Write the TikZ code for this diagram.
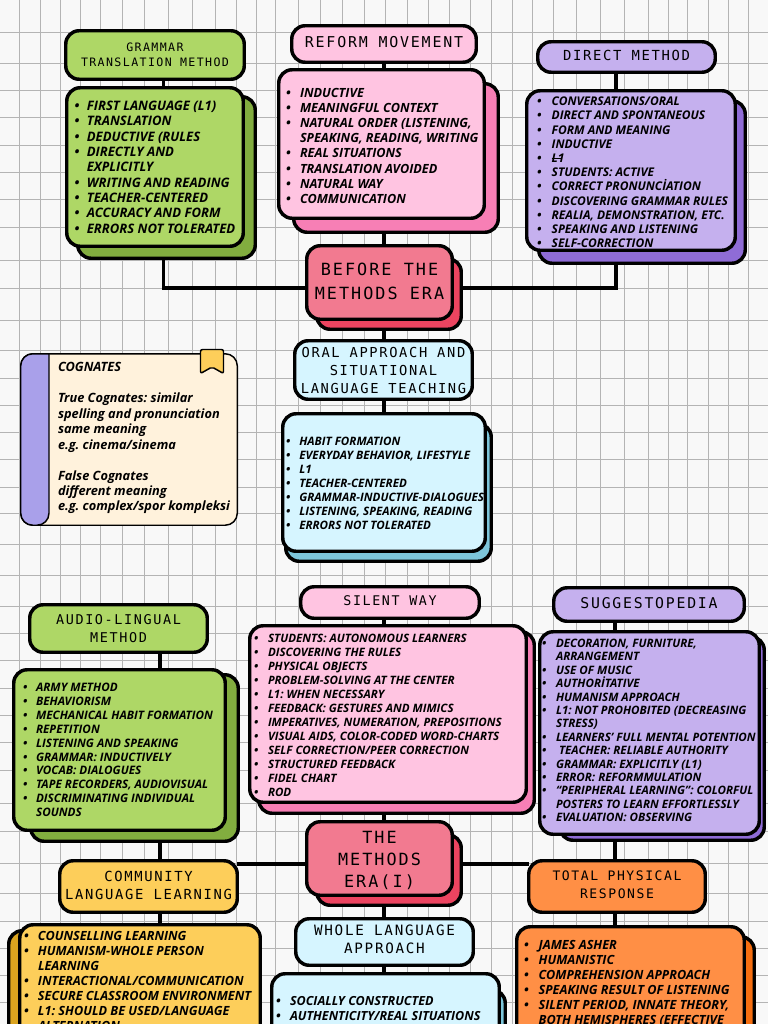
\documentclass[tikz,border=0pt]{standalone}
\usepackage{fontspec}
\newfontfamily\bfam{Open Sans}
\newfontfamily\tfam{DejaVu Sans Mono}[LetterSpace=12]
\definecolor{paper}{HTML}{F8F8F8}
\definecolor{gridc}{HTML}{B4B4B4}
\definecolor{grn}{HTML}{AED766}\definecolor{grnS}{HTML}{82AD3F}
\definecolor{pnk}{HTML}{FFC4E1}\definecolor{pnkS}{HTML}{F77FB5}
\definecolor{vio}{HTML}{C5B0EE}\definecolor{vioS}{HTML}{8F6CD6}
\definecolor{red}{HTML}{F27A90}\definecolor{redS}{HTML}{EC4460}
\definecolor{cya}{HTML}{D6F5FF}\definecolor{cyaS}{HTML}{7DC6DB}
\definecolor{yel}{HTML}{FDCE5A}\definecolor{yelS}{HTML}{DBA41F}
\definecolor{org}{HTML}{FF8F45}\definecolor{orgS}{HTML}{F56E10}
\definecolor{cream}{HTML}{FFF2DC}\definecolor{lav}{HTML}{A9A0EA}
\tikzset{
  bxs/.style={draw=black,line width=2.6pt,rounded corners=10pt,inner sep=0pt,outer sep=0pt},
  ttx/.style={inner sep=0pt,outer sep=0pt,align=center,text=black},
  conn/.style={draw=black,line width=2.5pt},
  lst/.style={anchor=north west,inner sep=0pt,outer sep=0pt,align=left,text=black},
}
% name x1 y1 x2 y2 fill
\newcommand{\bx}[6]{%
  \pgfmathsetmacro{\tw}{(#4-#2-3.5)*0.75}\pgfmathsetmacro{\th}{(#5-#3-3.5)*0.75}%
  \node[bxs,fill=#6,minimum width=\tw pt,minimum height=\th pt] (#1) at ({(#2+#4)/2},{(#3+#5)/2}) {};}
% box-name, lift in pt, font size, skip, text
\newcommand{\tx}[5]{\node[ttx,font={\tfam\fontsize{#3}{#4}\selectfont}] (#1x) at ([yshift=#2pt]#1.center) {#5};}
\newcommand{\bl}{\makebox[\bw][l]{•}}
\newcommand{\ct}{\hspace*{\bw}}
% name x ytop gap size skip lines
\newcommand{\li}[7]{\def\bw{#4pt}%
  \node[lst,font={\frenchspacing\bfam\bfseries\itshape\fontsize{#5}{#6}\selectfont}] (#1) at (#2,#3) {#7};}
\begin{document}
\begin{tikzpicture}[x=0.75pt,y=-0.75pt]
\useasboundingbox (0,0) rectangle (768,1024);
\clip (0,0) rectangle (768,1024);
\fill[paper] (0,0) rectangle (768,1024);
\foreach \y in {32,63,90,117,145,172,199,227,260,288,320,350,378,405,432,459,487,513,544}{
  \draw[gridc,line width=0.35pt] (0,\y) -- (768,\y);
  \draw[gridc,line width=0.35pt] (0,\y+543) -- (768,\y+543);
}
\foreach \x in {19,40,60,80,100,122,144,168,192,215,236,256,275,298,320,342,364,385,407,428,449,470,491,512,532,553,576,600,624,648,668,687,708,728,748}{
  \draw[gridc,line width=0.35pt] (\x,0) -- (\x,1024);
}
% ---- shadows and bodies
\bx{gtmS}{76}{95}{257}{260}{grnS}
\bx{gtmB}{65}{86}{245}{248}{grn}
\bx{gtmT}{64}{29}{246}{81}{grn}\tx{gtmT}{0}{8.7}{11.2}{GRAMMAR\\TRANSLATION METHOD}
\bx{refS}{292}{82}{500}{234}{pnkS}
\bx{refB}{277}{68}{486}{220}{pnk}
\bx{refT}{290}{24}{478}{64}{pnk}\tx{refT}{1.5}{11.2}{14}{REFORM MOVEMENT}
\bx{dirS}{537}{99}{747}{265}{vioS}
\bx{dirB}{525}{89}{737}{252}{vio}
\bx{dirT}{536}{40}{717}{74}{vio}\tx{dirT}{1.5}{10.4}{13}{DIRECT METHOD}
\bx{befS}{315}{257}{463}{331}{redS}
\bx{befT}{305}{244}{454}{321}{red}\tx{befT}{0.75}{12.6}{17.6}{BEFORE THE\\METHODS ERA}
\bx{oraT}{293}{339}{474}{401}{cya}\tx{oraT}{0}{10.3}{13.5}{ORAL APPROACH AND\\SITUATIONAL\\LANGUAGE TEACHING}
\bx{oraS}{284}{422}{493}{563}{cyaS}
\bx{oraB}{281}{412}{487}{553}{cya}
\bx{audT}{28}{603}{209}{654}{grn}\tx{audT}{0}{10.1}{13.5}{AUDIO-LINGUAL\\METHOD}
\bx{audS}{29}{673}{240}{843}{grnS}
\bx{audB}{12}{668}{227}{832}{grn}
\bx{silT}{299}{585}{481}{620}{pnk}\tx{silT}{1.5}{10}{13}{SILENT WAY}
\bx{silS}{257}{630}{536}{815}{pnkS}
\bx{silB}{248}{624}{528}{804}{pnk}
\bx{sugT}{552}{586}{746}{623}{vio}\tx{sugT}{0.75}{11.1}{14}{SUGGESTOPEDIA}
\bx{sugS}{558}{635}{766}{842}{vioS}
\bx{sugB}{538}{630}{761}{836}{vio}
\bx{metS}{315}{833}{463}{907}{redS}
\bx{metT}{305}{820}{454}{897}{red}\tx{metT}{-1.5}{12.6}{16.5}{THE\\METHODS\\ERA(I)}
\bx{cllT}{58}{859}{239}{914}{yel}\tx{cllT}{0.75}{10.4}{13.5}{COMMUNITY\\LANGUAGE LEARNING}
\bx{cllS}{7}{929}{230}{1070}{yelS}
\bx{cllB}{18}{923}{262}{1070}{yel}
\bx{wlaT}{294}{917}{475}{967}{cya}\tx{wlaT}{2.25}{10.7}{13.5}{WHOLE LANGUAGE\\APPROACH}
\bx{wlaS}{290}{988}{507}{1070}{cyaS}
\bx{wlaB}{270}{972}{501}{1070}{cya}
\bx{tprT}{527}{859}{707}{914}{org}\tx{tprT}{1.5}{9.8}{13.5}{TOTAL PHYSICAL\\RESPONSE}
\bx{tprS}{530}{935}{756}{1070}{orgS}
\bx{tprB}{515}{925}{746}{1070}{org}
% ---- cognates panel
\node[draw=black,line width=1.1pt,fill=cream,rounded corners=9pt,minimum width=162.4pt,minimum height=128.6pt,inner sep=0pt,outer sep=0pt] (cog) at (129,439.5) {};
\draw[black,line width=1.1pt,fill=lav,rounded corners=9pt] (49,0 |- cog.north) -- (cog.north west) -- (cog.south west) -- (49,0 |- cog.south) [sharp corners] -- cycle;
\draw[black,line width=1.1pt,fill=yel,line join=round,rounded corners=1.5pt] (200.5,349.5) -- (223.5,349.5) -- (223.5,373.5) -- (212,367) -- (200.5,373.5) -- cycle;
% ---- connectors
\coordinate (cx1) at (163.5,0);
\coordinate (cx2) at (616,0);
\coordinate (cx3) at (160,0);
\coordinate (cx4) at (615,0);
\coordinate (cx5) at (384,0);
\coordinate (cy1) at (0,288);
\coordinate (cy2) at (0,864);
\draw[conn] (cx1 |- gtmT.south) -- (cx1 |- gtmB.north);
\draw[conn,line join=miter] (cx1 |- gtmS.south) -- (cx1 |- cy1) -- (befT.west |- cy1);
\draw[conn] (cx5 |- refT.south) -- (cx5 |- refB.north);
\draw[conn] (cx5 |- refS.south) -- (cx5 |- befT.north);
\draw[conn] (cx2 |- dirT.south) -- (cx2 |- dirB.north);
\draw[conn,line join=miter] (cx2 |- dirS.south) -- (cx2 |- cy1) -- (befS.east |- cy1);
\draw[conn] (cx5 |- befS.south) -- (cx5 |- oraT.north);
\draw[conn] (cx5 |- oraT.south) -- (cx5 |- oraB.north);
\draw[conn] (cx3 |- audT.south) -- (cx3 |- audB.north);
\draw[conn] (cx3 |- audS.south) -- (cx3 |- cllT.north);
\draw[conn] (cx3 |- cllT.south) -- (cx3 |- cllB.north);
\draw[conn] (cx5 |- silT.south) -- (cx5 |- silB.north);
\draw[conn] (cx5 |- silS.south) -- (cx5 |- metT.north);
\draw[conn] (cx4 |- sugT.south) -- (cx4 |- sugB.north);
\draw[conn] (cx4 |- sugS.south) -- (cx4 |- tprT.north);
\draw[conn] (cx4 |- tprT.south) -- (cx4 |- tprB.north);
\draw[conn] (cllT.east |- cy2) -- (metT.west |- cy2);
\draw[conn] (metS.east |- cy2) -- (tprT.west |- cy2);
\draw[conn] (cx5 |- metS.south) -- (cx5 |- wlaT.north);
\draw[conn] (cx5 |- wlaT.south) -- (cx5 |- wlaB.north);
% ---- texts
\li{gtmL}{74.5}{101}{9.3}{9.8}{11.5}{\bl FIRST LANGUAGE (L1)\\\bl TRANSLATION\\\bl DEDUCTIVE (RULES\\\bl DIRECTLY AND\\\ct EXPLICITLY\\\bl WRITING AND READING\\\bl TEACHER-CENTERED\\\bl ACCURACY AND FORM\\\bl ERRORS NOT TOLERATED}
\li{refL}{286}{88}{10.5}{9.5}{11.4}{\bl INDUCTIVE\\\bl MEANINGFUL CONTEXT\\\bl NATURAL ORDER (LISTENING,\\\ct SPEAKING, READING, WRITING\\\bl REAL SITUATIONS\\\bl TRANSLATION AVOIDED\\\bl NATURAL WAY\\\bl COMMUNICATION}
\li{dirL}{537}{97}{11}{9}{10.65}{\bl CONVERSATIONS/ORAL\\\bl DIRECT AND SPONTANEOUS\\\bl FORM AND MEANING\\\bl INDUCTIVE\\\bl \rlap{\raisebox{2.6pt}{\rule{8pt}{0.6pt}}}L1\\\bl STUDENTS: ACTIVE\\\bl CORRECT PRONUNCİATION\\\bl DISCOVERING GRAMMAR RULES\\\bl REALIA, DEMONSTRATION, ETC.\\\bl SPEAKING AND LISTENING\\\bl SELF-CORRECTION}
\li{oraL}{286}{437}{10}{8.7}{10.5}{\bl HABIT FORMATION\\\bl EVERYDAY BEHAVIOR, LIFESTYLE\\\bl L1\\\bl TEACHER-CENTERED\\\bl GRAMMAR-INDUCTIVE-DIALOGUES\\\bl LISTENING, SPEAKING, READING\\\bl ERRORS NOT TOLERATED}
\li{audL}{23}{683}{9.8}{8.75}{10.43}{\bl ARMY METHOD\\\bl BEHAVIORISM\\\bl MECHANICAL HABIT FORMATION\\\bl REPETITION\\\bl LISTENING AND SPEAKING\\\bl GRAMMAR: INDUCTIVELY\\\bl VOCAB: DIALOGUES\\\bl TAPE RECORDERS, AUDIOVISUAL\\\bl DISCRIMINATING INDIVIDUAL\\\ct SOUNDS}
\li{silL}{254}{634}{10.5}{8.67}{10.5}{\bl STUDENTS: AUTONOMOUS LEARNERS\\\bl DISCOVERING THE RULES\\\bl PHYSICAL OBJECTS\\\bl PROBLEM-SOLVING AT THE CENTER\\\bl L1: WHEN NECESSARY\\\bl FEEDBACK: GESTURES AND MIMICS\\\bl IMPERATIVES, NUMERATION, PREPOSITIONS\\\bl VISUAL AIDS, COLOR-CODED WORD-CHARTS\\\bl SELF CORRECTION/PEER CORRECTION\\\bl STRUCTURED FEEDBACK\\\bl FIDEL CHART\\\bl ROD}
\li{sugL}{542}{639}{10.5}{8.7}{10.05}{\bl DECORATION, FURNITURE,\\\ct ARRANGEMENT\\\bl USE OF MUSIC\\\bl AUTHORİTATIVE\\\bl HUMANISM APPROACH\\\bl L1: NOT PROHOBITED (DECREASING\\\ct STRESS)\\\bl LEARNERS’ FULL MENTAL POTENTION\\\bl \ TEACHER: RELIABLE AUTHORITY\\\bl GRAMMAR: EXPLICITLY (L1)\\\bl ERROR: REFORMMULATION\\\bl “PERIPHERAL LEARNING”: COLORFUL\\\ct POSTERS TO LEARN EFFORTLESSLY\\\bl EVALUATION: OBSERVING}
\li{cllL}{24}{931}{10.5}{9.5}{11.25}{\bl COUNSELLING LEARNING\\\bl HUMANISM-WHOLE PERSON\\\ct LEARNING\\\bl INTERACTIONAL/COMMUNICATION\\\bl SECURE CLASSROOM ENVIRONMENT\\\bl L1: SHOULD BE USED/LANGUAGE\\\ct ALTERNATION}
\li{wlaL}{276}{996}{10.5}{9.4}{11.25}{\bl SOCIALLY CONSTRUCTED\\\bl AUTHENTICITY/REAL SITUATIONS}
\li{tprL}{524}{940}{11}{9.5}{11.25}{\bl JAMES ASHER\\\bl HUMANISTIC\\\bl COMPREHENSION APPROACH\\\bl SPEAKING RESULT OF LISTENING\\\bl SILENT PERIOD, INNATE THEORY,\\\ct BOTH HEMISPHERES (EFFECTIVE}
\li{cogL}{58}{362.5}{0}{9.6}{11.6}{COGNATES\\[11.6pt]True Cognates: similar\\spelling and pronunciation\\same meaning\\e.g. cinema/sinema\\[11.6pt]False Cognates\\different meaning\\e.g. complex/spor kompleksi}
\end{tikzpicture}
\end{document}
